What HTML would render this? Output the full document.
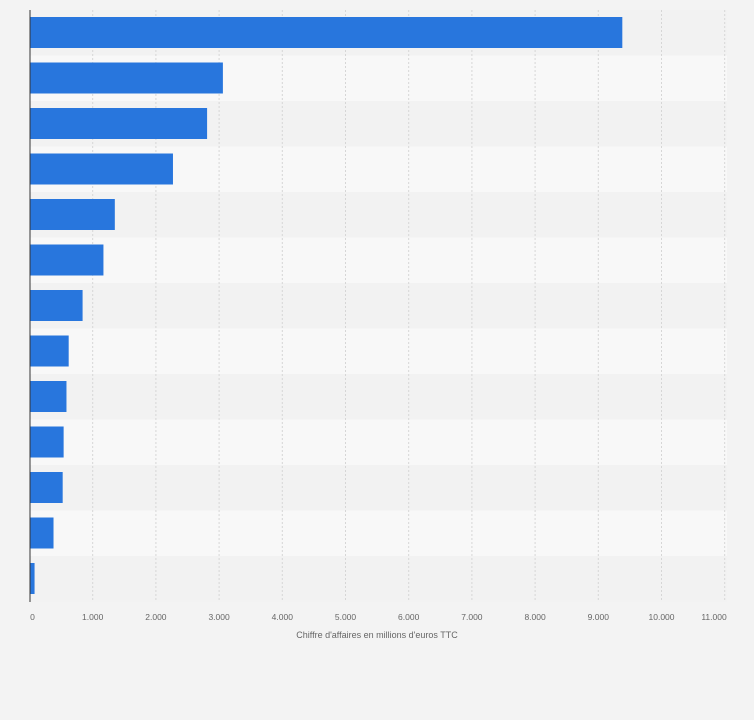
<!DOCTYPE html>
<html><head><meta charset="utf-8"><style>
html,body{margin:0;padding:0;background:#f3f3f3;}
svg{display:block;font-family:"Liberation Sans",sans-serif;}
</style></head><body>
<svg id="chart" width="754" height="720"></svg>
<script>
const categories=["c1","c2","c3","c4","c5","c6","c7","c8","c9","c10","c11","c12","c13"];
const values=[9380,3060,2810,2270,1350,1170,840,620,585,540,525,380,80];
const ticks=[0,1000,2000,3000,4000,5000,6000,7000,8000,9000,10000,11000];
const tickLabels=["0","1.000","2.000","3.000","4.000","5.000","6.000","7.000","8.000","9.000","10.000","11.000"];
const NS="http://www.w3.org/2000/svg";
const svgEl=document.getElementById('chart');
const x0=29.5,kScale=63.2/1000,plotTop=10,band=45.5;
const xs=v=>x0+v*kScale;
function mk(t,a){const e=document.createElementNS(NS,t);for(const n in a)e.setAttribute(n,a[n]);svgEl.appendChild(e);return e;}
categories.forEach((c,i)=>{
  const r=mk('rect',{x:30,y:plotTop+i*band,width:697,height:band,fill:i%2?'#f8f8f8':'#f2f2f2'});
  
  
});
ticks.forEach((t,i)=>{
  if(i>0){const l=mk('line',{x1:xs(t),x2:xs(t),y1:plotTop,y2:600,stroke:'#d6d6d6','stroke-dasharray':'2,2'});
  
  }
  const last=i===ticks.length-1;
  const tx=mk('text',{x:last?xs(t)+2:xs(t)+(i==0?3:0),y:620,'font-size':8.5,fill:'#666','text-anchor':last?'end':'middle'});
  tx.textContent=tickLabels[i];
  
  
});
values.forEach((v,i)=>{
  const b=mk('rect',{x:30,y:plotTop+i*band+7,width:xs(v)-30,height:31,fill:'#2876dd'});
  
  
});
const ax=mk('line',{x1:30,x2:30,y1:plotTop,y2:602,stroke:'#333','stroke-width':1});


const tt=mk('text',{x:377,y:638,'font-size':9,fill:'#666','text-anchor':'middle'});
tt.textContent="Chiffre d'affaires en millions d'euros TTC";


</script>
</body></html>
